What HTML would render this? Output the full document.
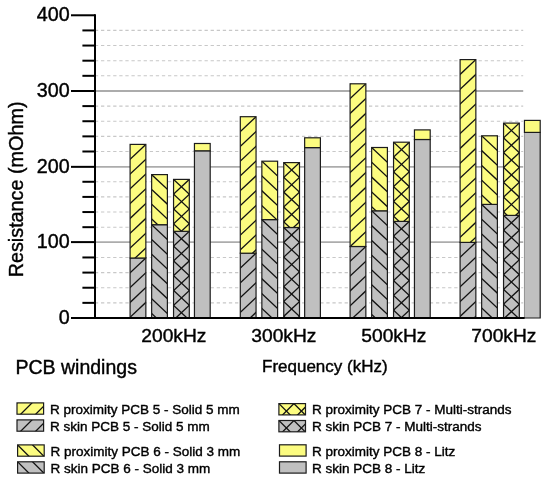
<!DOCTYPE html><html><head><meta charset="utf-8"><title>PCB windings resistance</title><style>html,body{margin:0;padding:0;background:#fff;overflow:hidden}svg{display:block;filter:blur(0.3px)}text{font-family:"Liberation Sans",Arial,Helvetica,sans-serif;fill:#000;stroke:#000;stroke-width:0.4px}</style></head><body>
<svg width="550" height="479" viewBox="0 0 550 479">
<rect width="550" height="479" fill="#fff"/>
<line x1="96.0" y1="302.86" x2="523.2" y2="302.86" stroke="#c8c8c8" stroke-width="1.1" stroke-dasharray="3.3 2.79" stroke-dashoffset="1.09"/>
<line x1="96.0" y1="287.73" x2="523.2" y2="287.73" stroke="#c8c8c8" stroke-width="1.1" stroke-dasharray="3.3 2.79" stroke-dashoffset="1.09"/>
<line x1="96.0" y1="272.59" x2="523.2" y2="272.59" stroke="#c8c8c8" stroke-width="1.1" stroke-dasharray="3.3 2.79" stroke-dashoffset="1.09"/>
<line x1="96.0" y1="257.46" x2="523.2" y2="257.46" stroke="#c8c8c8" stroke-width="1.1" stroke-dasharray="3.3 2.79" stroke-dashoffset="1.09"/>
<line x1="95.0" y1="242.10" x2="523.2" y2="242.10" stroke="#acacac" stroke-width="1.8"/>
<line x1="96.0" y1="227.18" x2="523.2" y2="227.18" stroke="#c8c8c8" stroke-width="1.1" stroke-dasharray="3.3 2.79" stroke-dashoffset="1.09"/>
<line x1="96.0" y1="212.05" x2="523.2" y2="212.05" stroke="#c8c8c8" stroke-width="1.1" stroke-dasharray="3.3 2.79" stroke-dashoffset="1.09"/>
<line x1="96.0" y1="196.91" x2="523.2" y2="196.91" stroke="#c8c8c8" stroke-width="1.1" stroke-dasharray="3.3 2.79" stroke-dashoffset="1.09"/>
<line x1="96.0" y1="181.78" x2="523.2" y2="181.78" stroke="#c8c8c8" stroke-width="1.1" stroke-dasharray="3.3 2.79" stroke-dashoffset="1.09"/>
<line x1="95.0" y1="166.85" x2="523.2" y2="166.85" stroke="#acacac" stroke-width="1.8"/>
<line x1="96.0" y1="151.50" x2="523.2" y2="151.50" stroke="#c8c8c8" stroke-width="1.1" stroke-dasharray="3.3 2.79" stroke-dashoffset="1.09"/>
<line x1="96.0" y1="136.37" x2="523.2" y2="136.37" stroke="#c8c8c8" stroke-width="1.1" stroke-dasharray="3.3 2.79" stroke-dashoffset="1.09"/>
<line x1="96.0" y1="121.23" x2="523.2" y2="121.23" stroke="#c8c8c8" stroke-width="1.1" stroke-dasharray="3.3 2.79" stroke-dashoffset="1.09"/>
<line x1="96.0" y1="106.10" x2="523.2" y2="106.10" stroke="#c8c8c8" stroke-width="1.1" stroke-dasharray="3.3 2.79" stroke-dashoffset="1.09"/>
<line x1="95.0" y1="91.00" x2="523.2" y2="91.00" stroke="#acacac" stroke-width="1.8"/>
<line x1="96.0" y1="75.82" x2="523.2" y2="75.82" stroke="#c8c8c8" stroke-width="1.1" stroke-dasharray="3.3 2.79" stroke-dashoffset="1.09"/>
<line x1="96.0" y1="60.69" x2="523.2" y2="60.69" stroke="#c8c8c8" stroke-width="1.1" stroke-dasharray="3.3 2.79" stroke-dashoffset="1.09"/>
<line x1="96.0" y1="45.55" x2="523.2" y2="45.55" stroke="#c8c8c8" stroke-width="1.1" stroke-dasharray="3.3 2.79" stroke-dashoffset="1.09"/>
<line x1="96.0" y1="30.42" x2="523.2" y2="30.42" stroke="#c8c8c8" stroke-width="1.1" stroke-dasharray="3.3 2.79" stroke-dashoffset="1.09"/>
<clipPath id="c1"><rect x="130.10" y="258.00" width="15.75" height="60.00"/></clipPath>
<rect x="130.10" y="258.00" width="15.75" height="60.00" fill="#c0c0c0"/>
<g clip-path="url(#c1)" stroke="#111" stroke-width="1.3">
<line x1="128.10" y1="215.48" x2="147.85" y2="196.92"/>
<line x1="128.10" y1="230.28" x2="147.85" y2="211.72"/>
<line x1="128.10" y1="245.08" x2="147.85" y2="226.52"/>
<line x1="128.10" y1="259.88" x2="147.85" y2="241.32"/>
<line x1="128.10" y1="274.68" x2="147.85" y2="256.12"/>
<line x1="128.10" y1="289.48" x2="147.85" y2="270.92"/>
<line x1="128.10" y1="304.28" x2="147.85" y2="285.72"/>
<line x1="128.10" y1="319.08" x2="147.85" y2="300.52"/>
<line x1="128.10" y1="333.88" x2="147.85" y2="315.32"/>
<line x1="128.10" y1="348.68" x2="147.85" y2="330.12"/>
<line x1="128.10" y1="363.48" x2="147.85" y2="344.92"/>
<line x1="128.10" y1="378.28" x2="147.85" y2="359.72"/>
<line x1="128.10" y1="393.08" x2="147.85" y2="374.52"/>
</g>
<rect x="130.10" y="258.00" width="15.75" height="60.00" fill="none" stroke="#1c1c1c" stroke-width="1.2"/>
<clipPath id="c2"><rect x="130.10" y="144.40" width="15.75" height="113.60"/></clipPath>
<rect x="130.10" y="144.40" width="15.75" height="113.60" fill="#fcfc80"/>
<g clip-path="url(#c2)" stroke="#111" stroke-width="1.3">
<line x1="128.10" y1="101.88" x2="147.85" y2="83.32"/>
<line x1="128.10" y1="116.68" x2="147.85" y2="98.12"/>
<line x1="128.10" y1="131.48" x2="147.85" y2="112.92"/>
<line x1="128.10" y1="146.28" x2="147.85" y2="127.72"/>
<line x1="128.10" y1="161.08" x2="147.85" y2="142.52"/>
<line x1="128.10" y1="175.88" x2="147.85" y2="157.32"/>
<line x1="128.10" y1="190.68" x2="147.85" y2="172.12"/>
<line x1="128.10" y1="205.48" x2="147.85" y2="186.92"/>
<line x1="128.10" y1="220.28" x2="147.85" y2="201.72"/>
<line x1="128.10" y1="235.08" x2="147.85" y2="216.52"/>
<line x1="128.10" y1="249.88" x2="147.85" y2="231.32"/>
<line x1="128.10" y1="264.68" x2="147.85" y2="246.12"/>
<line x1="128.10" y1="279.48" x2="147.85" y2="260.92"/>
<line x1="128.10" y1="294.28" x2="147.85" y2="275.72"/>
<line x1="128.10" y1="309.08" x2="147.85" y2="290.52"/>
<line x1="128.10" y1="323.88" x2="147.85" y2="305.32"/>
</g>
<rect x="130.10" y="144.40" width="15.75" height="113.60" fill="none" stroke="#1c1c1c" stroke-width="1.2"/>
<clipPath id="c3"><rect x="151.65" y="224.70" width="15.75" height="93.30"/></clipPath>
<rect x="151.65" y="224.70" width="15.75" height="93.30" fill="#c0c0c0"/>
<g clip-path="url(#c3)" stroke="#111" stroke-width="1.3">
<line x1="149.65" y1="178.42" x2="169.40" y2="196.98"/>
<line x1="149.65" y1="193.22" x2="169.40" y2="211.78"/>
<line x1="149.65" y1="208.02" x2="169.40" y2="226.58"/>
<line x1="149.65" y1="222.82" x2="169.40" y2="241.38"/>
<line x1="149.65" y1="237.62" x2="169.40" y2="256.18"/>
<line x1="149.65" y1="252.42" x2="169.40" y2="270.98"/>
<line x1="149.65" y1="267.22" x2="169.40" y2="285.78"/>
<line x1="149.65" y1="282.02" x2="169.40" y2="300.58"/>
<line x1="149.65" y1="296.82" x2="169.40" y2="315.38"/>
<line x1="149.65" y1="311.62" x2="169.40" y2="330.18"/>
<line x1="149.65" y1="326.42" x2="169.40" y2="344.98"/>
<line x1="149.65" y1="341.22" x2="169.40" y2="359.78"/>
</g>
<rect x="151.65" y="224.70" width="15.75" height="93.30" fill="none" stroke="#1c1c1c" stroke-width="1.2"/>
<clipPath id="c4"><rect x="151.65" y="174.60" width="15.75" height="50.10"/></clipPath>
<rect x="151.65" y="174.60" width="15.75" height="50.10" fill="#fcfc80"/>
<g clip-path="url(#c4)" stroke="#111" stroke-width="1.3">
<line x1="149.65" y1="128.32" x2="169.40" y2="146.88"/>
<line x1="149.65" y1="143.12" x2="169.40" y2="161.68"/>
<line x1="149.65" y1="157.92" x2="169.40" y2="176.48"/>
<line x1="149.65" y1="172.72" x2="169.40" y2="191.28"/>
<line x1="149.65" y1="187.52" x2="169.40" y2="206.08"/>
<line x1="149.65" y1="202.32" x2="169.40" y2="220.88"/>
<line x1="149.65" y1="217.12" x2="169.40" y2="235.68"/>
<line x1="149.65" y1="231.92" x2="169.40" y2="250.48"/>
<line x1="149.65" y1="246.72" x2="169.40" y2="265.28"/>
</g>
<rect x="151.65" y="174.60" width="15.75" height="50.10" fill="none" stroke="#1c1c1c" stroke-width="1.2"/>
<clipPath id="c5"><rect x="173.55" y="231.30" width="15.75" height="86.70"/></clipPath>
<rect x="173.55" y="231.30" width="15.75" height="86.70" fill="#c0c0c0"/>
<g clip-path="url(#c5)" stroke="#111" stroke-width="1.3">
<line x1="171.55" y1="185.02" x2="191.30" y2="203.58"/>
<line x1="171.55" y1="199.82" x2="191.30" y2="218.38"/>
<line x1="171.55" y1="214.62" x2="191.30" y2="233.18"/>
<line x1="171.55" y1="229.42" x2="191.30" y2="247.98"/>
<line x1="171.55" y1="244.22" x2="191.30" y2="262.78"/>
<line x1="171.55" y1="259.02" x2="191.30" y2="277.58"/>
<line x1="171.55" y1="273.82" x2="191.30" y2="292.38"/>
<line x1="171.55" y1="288.62" x2="191.30" y2="307.18"/>
<line x1="171.55" y1="303.42" x2="191.30" y2="321.98"/>
<line x1="171.55" y1="318.22" x2="191.30" y2="336.78"/>
<line x1="171.55" y1="333.02" x2="191.30" y2="351.58"/>
<line x1="171.55" y1="188.78" x2="191.30" y2="170.22"/>
<line x1="171.55" y1="203.58" x2="191.30" y2="185.02"/>
<line x1="171.55" y1="218.38" x2="191.30" y2="199.82"/>
<line x1="171.55" y1="233.18" x2="191.30" y2="214.62"/>
<line x1="171.55" y1="247.98" x2="191.30" y2="229.42"/>
<line x1="171.55" y1="262.78" x2="191.30" y2="244.22"/>
<line x1="171.55" y1="277.58" x2="191.30" y2="259.02"/>
<line x1="171.55" y1="292.38" x2="191.30" y2="273.82"/>
<line x1="171.55" y1="307.18" x2="191.30" y2="288.62"/>
<line x1="171.55" y1="321.98" x2="191.30" y2="303.42"/>
<line x1="171.55" y1="336.78" x2="191.30" y2="318.22"/>
<line x1="171.55" y1="351.58" x2="191.30" y2="333.02"/>
<line x1="171.55" y1="366.38" x2="191.30" y2="347.82"/>
<line x1="171.55" y1="381.18" x2="191.30" y2="362.62"/>
</g>
<rect x="173.55" y="231.30" width="15.75" height="86.70" fill="none" stroke="#1c1c1c" stroke-width="1.2"/>
<clipPath id="c6"><rect x="173.55" y="179.40" width="15.75" height="51.90"/></clipPath>
<rect x="173.55" y="179.40" width="15.75" height="51.90" fill="#fcfc80"/>
<g clip-path="url(#c6)" stroke="#111" stroke-width="1.3">
<line x1="171.55" y1="133.12" x2="191.30" y2="151.68"/>
<line x1="171.55" y1="147.92" x2="191.30" y2="166.48"/>
<line x1="171.55" y1="162.72" x2="191.30" y2="181.28"/>
<line x1="171.55" y1="177.52" x2="191.30" y2="196.08"/>
<line x1="171.55" y1="192.32" x2="191.30" y2="210.88"/>
<line x1="171.55" y1="207.12" x2="191.30" y2="225.68"/>
<line x1="171.55" y1="221.92" x2="191.30" y2="240.48"/>
<line x1="171.55" y1="236.72" x2="191.30" y2="255.28"/>
<line x1="171.55" y1="251.52" x2="191.30" y2="270.08"/>
<line x1="171.55" y1="136.88" x2="191.30" y2="118.32"/>
<line x1="171.55" y1="151.68" x2="191.30" y2="133.12"/>
<line x1="171.55" y1="166.48" x2="191.30" y2="147.92"/>
<line x1="171.55" y1="181.28" x2="191.30" y2="162.72"/>
<line x1="171.55" y1="196.08" x2="191.30" y2="177.52"/>
<line x1="171.55" y1="210.88" x2="191.30" y2="192.32"/>
<line x1="171.55" y1="225.68" x2="191.30" y2="207.12"/>
<line x1="171.55" y1="240.48" x2="191.30" y2="221.92"/>
<line x1="171.55" y1="255.28" x2="191.30" y2="236.72"/>
<line x1="171.55" y1="270.08" x2="191.30" y2="251.52"/>
<line x1="171.55" y1="284.88" x2="191.30" y2="266.32"/>
<line x1="171.55" y1="299.68" x2="191.30" y2="281.12"/>
</g>
<rect x="173.55" y="179.40" width="15.75" height="51.90" fill="none" stroke="#1c1c1c" stroke-width="1.2"/>
<rect x="194.45" y="150.80" width="15.75" height="167.20" fill="#c0c0c0" stroke="#1c1c1c" stroke-width="1.2"/>
<rect x="194.45" y="143.50" width="15.75" height="7.30" fill="#fcfc80" stroke="#1c1c1c" stroke-width="1.2"/>
<clipPath id="c7"><rect x="240.30" y="253.20" width="15.75" height="64.80"/></clipPath>
<rect x="240.30" y="253.20" width="15.75" height="64.80" fill="#c0c0c0"/>
<g clip-path="url(#c7)" stroke="#111" stroke-width="1.3">
<line x1="238.30" y1="210.68" x2="258.05" y2="192.12"/>
<line x1="238.30" y1="225.48" x2="258.05" y2="206.92"/>
<line x1="238.30" y1="240.28" x2="258.05" y2="221.72"/>
<line x1="238.30" y1="255.08" x2="258.05" y2="236.52"/>
<line x1="238.30" y1="269.88" x2="258.05" y2="251.32"/>
<line x1="238.30" y1="284.68" x2="258.05" y2="266.12"/>
<line x1="238.30" y1="299.48" x2="258.05" y2="280.92"/>
<line x1="238.30" y1="314.28" x2="258.05" y2="295.72"/>
<line x1="238.30" y1="329.08" x2="258.05" y2="310.52"/>
<line x1="238.30" y1="343.88" x2="258.05" y2="325.32"/>
<line x1="238.30" y1="358.68" x2="258.05" y2="340.12"/>
<line x1="238.30" y1="373.48" x2="258.05" y2="354.92"/>
<line x1="238.30" y1="388.28" x2="258.05" y2="369.72"/>
</g>
<rect x="240.30" y="253.20" width="15.75" height="64.80" fill="none" stroke="#1c1c1c" stroke-width="1.2"/>
<clipPath id="c8"><rect x="240.30" y="116.70" width="15.75" height="136.50"/></clipPath>
<rect x="240.30" y="116.70" width="15.75" height="136.50" fill="#fcfc80"/>
<g clip-path="url(#c8)" stroke="#111" stroke-width="1.3">
<line x1="238.30" y1="74.18" x2="258.05" y2="55.62"/>
<line x1="238.30" y1="88.98" x2="258.05" y2="70.42"/>
<line x1="238.30" y1="103.78" x2="258.05" y2="85.22"/>
<line x1="238.30" y1="118.58" x2="258.05" y2="100.02"/>
<line x1="238.30" y1="133.38" x2="258.05" y2="114.82"/>
<line x1="238.30" y1="148.18" x2="258.05" y2="129.62"/>
<line x1="238.30" y1="162.98" x2="258.05" y2="144.42"/>
<line x1="238.30" y1="177.78" x2="258.05" y2="159.22"/>
<line x1="238.30" y1="192.58" x2="258.05" y2="174.02"/>
<line x1="238.30" y1="207.38" x2="258.05" y2="188.82"/>
<line x1="238.30" y1="222.18" x2="258.05" y2="203.62"/>
<line x1="238.30" y1="236.98" x2="258.05" y2="218.42"/>
<line x1="238.30" y1="251.78" x2="258.05" y2="233.22"/>
<line x1="238.30" y1="266.58" x2="258.05" y2="248.02"/>
<line x1="238.30" y1="281.38" x2="258.05" y2="262.82"/>
<line x1="238.30" y1="296.18" x2="258.05" y2="277.62"/>
<line x1="238.30" y1="310.98" x2="258.05" y2="292.42"/>
<line x1="238.30" y1="325.78" x2="258.05" y2="307.22"/>
</g>
<rect x="240.30" y="116.70" width="15.75" height="136.50" fill="none" stroke="#1c1c1c" stroke-width="1.2"/>
<clipPath id="c9"><rect x="261.85" y="219.60" width="15.75" height="98.40"/></clipPath>
<rect x="261.85" y="219.60" width="15.75" height="98.40" fill="#c0c0c0"/>
<g clip-path="url(#c9)" stroke="#111" stroke-width="1.3">
<line x1="259.85" y1="173.32" x2="279.60" y2="191.88"/>
<line x1="259.85" y1="188.12" x2="279.60" y2="206.68"/>
<line x1="259.85" y1="202.92" x2="279.60" y2="221.48"/>
<line x1="259.85" y1="217.72" x2="279.60" y2="236.28"/>
<line x1="259.85" y1="232.52" x2="279.60" y2="251.08"/>
<line x1="259.85" y1="247.32" x2="279.60" y2="265.88"/>
<line x1="259.85" y1="262.12" x2="279.60" y2="280.68"/>
<line x1="259.85" y1="276.92" x2="279.60" y2="295.48"/>
<line x1="259.85" y1="291.72" x2="279.60" y2="310.28"/>
<line x1="259.85" y1="306.52" x2="279.60" y2="325.08"/>
<line x1="259.85" y1="321.32" x2="279.60" y2="339.88"/>
<line x1="259.85" y1="336.12" x2="279.60" y2="354.68"/>
</g>
<rect x="261.85" y="219.60" width="15.75" height="98.40" fill="none" stroke="#1c1c1c" stroke-width="1.2"/>
<clipPath id="c10"><rect x="261.85" y="161.20" width="15.75" height="58.40"/></clipPath>
<rect x="261.85" y="161.20" width="15.75" height="58.40" fill="#fcfc80"/>
<g clip-path="url(#c10)" stroke="#111" stroke-width="1.3">
<line x1="259.85" y1="114.92" x2="279.60" y2="133.48"/>
<line x1="259.85" y1="129.72" x2="279.60" y2="148.28"/>
<line x1="259.85" y1="144.52" x2="279.60" y2="163.08"/>
<line x1="259.85" y1="159.32" x2="279.60" y2="177.88"/>
<line x1="259.85" y1="174.12" x2="279.60" y2="192.68"/>
<line x1="259.85" y1="188.92" x2="279.60" y2="207.48"/>
<line x1="259.85" y1="203.72" x2="279.60" y2="222.28"/>
<line x1="259.85" y1="218.52" x2="279.60" y2="237.08"/>
<line x1="259.85" y1="233.32" x2="279.60" y2="251.88"/>
</g>
<rect x="261.85" y="161.20" width="15.75" height="58.40" fill="none" stroke="#1c1c1c" stroke-width="1.2"/>
<clipPath id="c11"><rect x="283.75" y="227.50" width="15.75" height="90.50"/></clipPath>
<rect x="283.75" y="227.50" width="15.75" height="90.50" fill="#c0c0c0"/>
<g clip-path="url(#c11)" stroke="#111" stroke-width="1.3">
<line x1="281.75" y1="181.22" x2="301.50" y2="199.78"/>
<line x1="281.75" y1="196.02" x2="301.50" y2="214.58"/>
<line x1="281.75" y1="210.82" x2="301.50" y2="229.38"/>
<line x1="281.75" y1="225.62" x2="301.50" y2="244.18"/>
<line x1="281.75" y1="240.42" x2="301.50" y2="258.98"/>
<line x1="281.75" y1="255.22" x2="301.50" y2="273.78"/>
<line x1="281.75" y1="270.02" x2="301.50" y2="288.58"/>
<line x1="281.75" y1="284.82" x2="301.50" y2="303.38"/>
<line x1="281.75" y1="299.62" x2="301.50" y2="318.18"/>
<line x1="281.75" y1="314.42" x2="301.50" y2="332.98"/>
<line x1="281.75" y1="329.22" x2="301.50" y2="347.78"/>
<line x1="281.75" y1="344.02" x2="301.50" y2="362.58"/>
<line x1="281.75" y1="184.98" x2="301.50" y2="166.42"/>
<line x1="281.75" y1="199.78" x2="301.50" y2="181.22"/>
<line x1="281.75" y1="214.58" x2="301.50" y2="196.02"/>
<line x1="281.75" y1="229.38" x2="301.50" y2="210.82"/>
<line x1="281.75" y1="244.18" x2="301.50" y2="225.62"/>
<line x1="281.75" y1="258.98" x2="301.50" y2="240.42"/>
<line x1="281.75" y1="273.78" x2="301.50" y2="255.22"/>
<line x1="281.75" y1="288.58" x2="301.50" y2="270.02"/>
<line x1="281.75" y1="303.38" x2="301.50" y2="284.82"/>
<line x1="281.75" y1="318.18" x2="301.50" y2="299.62"/>
<line x1="281.75" y1="332.98" x2="301.50" y2="314.42"/>
<line x1="281.75" y1="347.78" x2="301.50" y2="329.22"/>
<line x1="281.75" y1="362.58" x2="301.50" y2="344.02"/>
<line x1="281.75" y1="377.38" x2="301.50" y2="358.82"/>
<line x1="281.75" y1="392.18" x2="301.50" y2="373.62"/>
</g>
<rect x="283.75" y="227.50" width="15.75" height="90.50" fill="none" stroke="#1c1c1c" stroke-width="1.2"/>
<clipPath id="c12"><rect x="283.75" y="162.60" width="15.75" height="64.90"/></clipPath>
<rect x="283.75" y="162.60" width="15.75" height="64.90" fill="#fcfc80"/>
<g clip-path="url(#c12)" stroke="#111" stroke-width="1.3">
<line x1="281.75" y1="116.32" x2="301.50" y2="134.88"/>
<line x1="281.75" y1="131.12" x2="301.50" y2="149.68"/>
<line x1="281.75" y1="145.92" x2="301.50" y2="164.48"/>
<line x1="281.75" y1="160.72" x2="301.50" y2="179.28"/>
<line x1="281.75" y1="175.52" x2="301.50" y2="194.08"/>
<line x1="281.75" y1="190.32" x2="301.50" y2="208.88"/>
<line x1="281.75" y1="205.12" x2="301.50" y2="223.68"/>
<line x1="281.75" y1="219.92" x2="301.50" y2="238.48"/>
<line x1="281.75" y1="234.72" x2="301.50" y2="253.28"/>
<line x1="281.75" y1="249.52" x2="301.50" y2="268.08"/>
<line x1="281.75" y1="120.08" x2="301.50" y2="101.52"/>
<line x1="281.75" y1="134.88" x2="301.50" y2="116.32"/>
<line x1="281.75" y1="149.68" x2="301.50" y2="131.12"/>
<line x1="281.75" y1="164.48" x2="301.50" y2="145.92"/>
<line x1="281.75" y1="179.28" x2="301.50" y2="160.72"/>
<line x1="281.75" y1="194.08" x2="301.50" y2="175.52"/>
<line x1="281.75" y1="208.88" x2="301.50" y2="190.32"/>
<line x1="281.75" y1="223.68" x2="301.50" y2="205.12"/>
<line x1="281.75" y1="238.48" x2="301.50" y2="219.92"/>
<line x1="281.75" y1="253.28" x2="301.50" y2="234.72"/>
<line x1="281.75" y1="268.08" x2="301.50" y2="249.52"/>
<line x1="281.75" y1="282.88" x2="301.50" y2="264.32"/>
<line x1="281.75" y1="297.68" x2="301.50" y2="279.12"/>
</g>
<rect x="283.75" y="162.60" width="15.75" height="64.90" fill="none" stroke="#1c1c1c" stroke-width="1.2"/>
<rect x="304.65" y="147.60" width="15.75" height="170.40" fill="#c0c0c0" stroke="#1c1c1c" stroke-width="1.2"/>
<rect x="304.65" y="137.80" width="15.75" height="9.80" fill="#fcfc80" stroke="#1c1c1c" stroke-width="1.2"/>
<clipPath id="c13"><rect x="350.10" y="246.50" width="15.75" height="71.50"/></clipPath>
<rect x="350.10" y="246.50" width="15.75" height="71.50" fill="#c0c0c0"/>
<g clip-path="url(#c13)" stroke="#111" stroke-width="1.3">
<line x1="348.10" y1="203.98" x2="367.85" y2="185.42"/>
<line x1="348.10" y1="218.78" x2="367.85" y2="200.22"/>
<line x1="348.10" y1="233.58" x2="367.85" y2="215.02"/>
<line x1="348.10" y1="248.38" x2="367.85" y2="229.82"/>
<line x1="348.10" y1="263.18" x2="367.85" y2="244.62"/>
<line x1="348.10" y1="277.98" x2="367.85" y2="259.42"/>
<line x1="348.10" y1="292.78" x2="367.85" y2="274.22"/>
<line x1="348.10" y1="307.58" x2="367.85" y2="289.02"/>
<line x1="348.10" y1="322.38" x2="367.85" y2="303.82"/>
<line x1="348.10" y1="337.18" x2="367.85" y2="318.62"/>
<line x1="348.10" y1="351.98" x2="367.85" y2="333.42"/>
<line x1="348.10" y1="366.78" x2="367.85" y2="348.22"/>
<line x1="348.10" y1="381.58" x2="367.85" y2="363.02"/>
</g>
<rect x="350.10" y="246.50" width="15.75" height="71.50" fill="none" stroke="#1c1c1c" stroke-width="1.2"/>
<clipPath id="c14"><rect x="350.10" y="83.80" width="15.75" height="162.70"/></clipPath>
<rect x="350.10" y="83.80" width="15.75" height="162.70" fill="#fcfc80"/>
<g clip-path="url(#c14)" stroke="#111" stroke-width="1.3">
<line x1="348.10" y1="41.28" x2="367.85" y2="22.72"/>
<line x1="348.10" y1="56.08" x2="367.85" y2="37.52"/>
<line x1="348.10" y1="70.88" x2="367.85" y2="52.32"/>
<line x1="348.10" y1="85.68" x2="367.85" y2="67.12"/>
<line x1="348.10" y1="100.48" x2="367.85" y2="81.92"/>
<line x1="348.10" y1="115.28" x2="367.85" y2="96.72"/>
<line x1="348.10" y1="130.08" x2="367.85" y2="111.52"/>
<line x1="348.10" y1="144.88" x2="367.85" y2="126.32"/>
<line x1="348.10" y1="159.68" x2="367.85" y2="141.12"/>
<line x1="348.10" y1="174.48" x2="367.85" y2="155.92"/>
<line x1="348.10" y1="189.28" x2="367.85" y2="170.72"/>
<line x1="348.10" y1="204.08" x2="367.85" y2="185.52"/>
<line x1="348.10" y1="218.88" x2="367.85" y2="200.32"/>
<line x1="348.10" y1="233.68" x2="367.85" y2="215.12"/>
<line x1="348.10" y1="248.48" x2="367.85" y2="229.92"/>
<line x1="348.10" y1="263.28" x2="367.85" y2="244.72"/>
<line x1="348.10" y1="278.08" x2="367.85" y2="259.52"/>
<line x1="348.10" y1="292.88" x2="367.85" y2="274.32"/>
<line x1="348.10" y1="307.68" x2="367.85" y2="289.12"/>
</g>
<rect x="350.10" y="83.80" width="15.75" height="162.70" fill="none" stroke="#1c1c1c" stroke-width="1.2"/>
<clipPath id="c15"><rect x="371.65" y="210.80" width="15.75" height="107.20"/></clipPath>
<rect x="371.65" y="210.80" width="15.75" height="107.20" fill="#c0c0c0"/>
<g clip-path="url(#c15)" stroke="#111" stroke-width="1.3">
<line x1="369.65" y1="164.52" x2="389.40" y2="183.08"/>
<line x1="369.65" y1="179.32" x2="389.40" y2="197.88"/>
<line x1="369.65" y1="194.12" x2="389.40" y2="212.68"/>
<line x1="369.65" y1="208.92" x2="389.40" y2="227.48"/>
<line x1="369.65" y1="223.72" x2="389.40" y2="242.28"/>
<line x1="369.65" y1="238.52" x2="389.40" y2="257.08"/>
<line x1="369.65" y1="253.32" x2="389.40" y2="271.88"/>
<line x1="369.65" y1="268.12" x2="389.40" y2="286.68"/>
<line x1="369.65" y1="282.92" x2="389.40" y2="301.48"/>
<line x1="369.65" y1="297.72" x2="389.40" y2="316.28"/>
<line x1="369.65" y1="312.52" x2="389.40" y2="331.08"/>
<line x1="369.65" y1="327.32" x2="389.40" y2="345.88"/>
<line x1="369.65" y1="342.12" x2="389.40" y2="360.68"/>
</g>
<rect x="371.65" y="210.80" width="15.75" height="107.20" fill="none" stroke="#1c1c1c" stroke-width="1.2"/>
<clipPath id="c16"><rect x="371.65" y="147.50" width="15.75" height="63.30"/></clipPath>
<rect x="371.65" y="147.50" width="15.75" height="63.30" fill="#fcfc80"/>
<g clip-path="url(#c16)" stroke="#111" stroke-width="1.3">
<line x1="369.65" y1="101.22" x2="389.40" y2="119.78"/>
<line x1="369.65" y1="116.02" x2="389.40" y2="134.58"/>
<line x1="369.65" y1="130.82" x2="389.40" y2="149.38"/>
<line x1="369.65" y1="145.62" x2="389.40" y2="164.18"/>
<line x1="369.65" y1="160.42" x2="389.40" y2="178.98"/>
<line x1="369.65" y1="175.22" x2="389.40" y2="193.78"/>
<line x1="369.65" y1="190.02" x2="389.40" y2="208.58"/>
<line x1="369.65" y1="204.82" x2="389.40" y2="223.38"/>
<line x1="369.65" y1="219.62" x2="389.40" y2="238.18"/>
<line x1="369.65" y1="234.42" x2="389.40" y2="252.98"/>
</g>
<rect x="371.65" y="147.50" width="15.75" height="63.30" fill="none" stroke="#1c1c1c" stroke-width="1.2"/>
<clipPath id="c17"><rect x="393.55" y="221.40" width="15.75" height="96.60"/></clipPath>
<rect x="393.55" y="221.40" width="15.75" height="96.60" fill="#c0c0c0"/>
<g clip-path="url(#c17)" stroke="#111" stroke-width="1.3">
<line x1="391.55" y1="175.12" x2="411.30" y2="193.68"/>
<line x1="391.55" y1="189.92" x2="411.30" y2="208.48"/>
<line x1="391.55" y1="204.72" x2="411.30" y2="223.28"/>
<line x1="391.55" y1="219.52" x2="411.30" y2="238.08"/>
<line x1="391.55" y1="234.32" x2="411.30" y2="252.88"/>
<line x1="391.55" y1="249.12" x2="411.30" y2="267.68"/>
<line x1="391.55" y1="263.92" x2="411.30" y2="282.48"/>
<line x1="391.55" y1="278.72" x2="411.30" y2="297.28"/>
<line x1="391.55" y1="293.52" x2="411.30" y2="312.08"/>
<line x1="391.55" y1="308.32" x2="411.30" y2="326.88"/>
<line x1="391.55" y1="323.12" x2="411.30" y2="341.68"/>
<line x1="391.55" y1="337.92" x2="411.30" y2="356.48"/>
<line x1="391.55" y1="178.88" x2="411.30" y2="160.32"/>
<line x1="391.55" y1="193.68" x2="411.30" y2="175.12"/>
<line x1="391.55" y1="208.48" x2="411.30" y2="189.92"/>
<line x1="391.55" y1="223.28" x2="411.30" y2="204.72"/>
<line x1="391.55" y1="238.08" x2="411.30" y2="219.52"/>
<line x1="391.55" y1="252.88" x2="411.30" y2="234.32"/>
<line x1="391.55" y1="267.68" x2="411.30" y2="249.12"/>
<line x1="391.55" y1="282.48" x2="411.30" y2="263.92"/>
<line x1="391.55" y1="297.28" x2="411.30" y2="278.72"/>
<line x1="391.55" y1="312.08" x2="411.30" y2="293.52"/>
<line x1="391.55" y1="326.88" x2="411.30" y2="308.32"/>
<line x1="391.55" y1="341.68" x2="411.30" y2="323.12"/>
<line x1="391.55" y1="356.48" x2="411.30" y2="337.92"/>
<line x1="391.55" y1="371.28" x2="411.30" y2="352.72"/>
<line x1="391.55" y1="386.08" x2="411.30" y2="367.52"/>
</g>
<rect x="393.55" y="221.40" width="15.75" height="96.60" fill="none" stroke="#1c1c1c" stroke-width="1.2"/>
<clipPath id="c18"><rect x="393.55" y="142.20" width="15.75" height="79.20"/></clipPath>
<rect x="393.55" y="142.20" width="15.75" height="79.20" fill="#fcfc80"/>
<g clip-path="url(#c18)" stroke="#111" stroke-width="1.3">
<line x1="391.55" y1="95.92" x2="411.30" y2="114.48"/>
<line x1="391.55" y1="110.72" x2="411.30" y2="129.28"/>
<line x1="391.55" y1="125.52" x2="411.30" y2="144.08"/>
<line x1="391.55" y1="140.32" x2="411.30" y2="158.88"/>
<line x1="391.55" y1="155.12" x2="411.30" y2="173.68"/>
<line x1="391.55" y1="169.92" x2="411.30" y2="188.48"/>
<line x1="391.55" y1="184.72" x2="411.30" y2="203.28"/>
<line x1="391.55" y1="199.52" x2="411.30" y2="218.08"/>
<line x1="391.55" y1="214.32" x2="411.30" y2="232.88"/>
<line x1="391.55" y1="229.12" x2="411.30" y2="247.68"/>
<line x1="391.55" y1="243.92" x2="411.30" y2="262.48"/>
<line x1="391.55" y1="99.68" x2="411.30" y2="81.12"/>
<line x1="391.55" y1="114.48" x2="411.30" y2="95.92"/>
<line x1="391.55" y1="129.28" x2="411.30" y2="110.72"/>
<line x1="391.55" y1="144.08" x2="411.30" y2="125.52"/>
<line x1="391.55" y1="158.88" x2="411.30" y2="140.32"/>
<line x1="391.55" y1="173.68" x2="411.30" y2="155.12"/>
<line x1="391.55" y1="188.48" x2="411.30" y2="169.92"/>
<line x1="391.55" y1="203.28" x2="411.30" y2="184.72"/>
<line x1="391.55" y1="218.08" x2="411.30" y2="199.52"/>
<line x1="391.55" y1="232.88" x2="411.30" y2="214.32"/>
<line x1="391.55" y1="247.68" x2="411.30" y2="229.12"/>
<line x1="391.55" y1="262.48" x2="411.30" y2="243.92"/>
<line x1="391.55" y1="277.28" x2="411.30" y2="258.72"/>
<line x1="391.55" y1="292.08" x2="411.30" y2="273.52"/>
</g>
<rect x="393.55" y="142.20" width="15.75" height="79.20" fill="none" stroke="#1c1c1c" stroke-width="1.2"/>
<rect x="414.45" y="139.50" width="15.75" height="178.50" fill="#c0c0c0" stroke="#1c1c1c" stroke-width="1.2"/>
<rect x="414.45" y="129.90" width="15.75" height="9.60" fill="#fcfc80" stroke="#1c1c1c" stroke-width="1.2"/>
<clipPath id="c19"><rect x="460.10" y="242.40" width="15.75" height="75.60"/></clipPath>
<rect x="460.10" y="242.40" width="15.75" height="75.60" fill="#c0c0c0"/>
<g clip-path="url(#c19)" stroke="#111" stroke-width="1.3">
<line x1="458.10" y1="199.88" x2="477.85" y2="181.32"/>
<line x1="458.10" y1="214.68" x2="477.85" y2="196.12"/>
<line x1="458.10" y1="229.48" x2="477.85" y2="210.92"/>
<line x1="458.10" y1="244.28" x2="477.85" y2="225.72"/>
<line x1="458.10" y1="259.08" x2="477.85" y2="240.52"/>
<line x1="458.10" y1="273.88" x2="477.85" y2="255.32"/>
<line x1="458.10" y1="288.68" x2="477.85" y2="270.12"/>
<line x1="458.10" y1="303.48" x2="477.85" y2="284.92"/>
<line x1="458.10" y1="318.28" x2="477.85" y2="299.72"/>
<line x1="458.10" y1="333.08" x2="477.85" y2="314.52"/>
<line x1="458.10" y1="347.88" x2="477.85" y2="329.32"/>
<line x1="458.10" y1="362.68" x2="477.85" y2="344.12"/>
<line x1="458.10" y1="377.48" x2="477.85" y2="358.92"/>
<line x1="458.10" y1="392.28" x2="477.85" y2="373.72"/>
</g>
<rect x="460.10" y="242.40" width="15.75" height="75.60" fill="none" stroke="#1c1c1c" stroke-width="1.2"/>
<clipPath id="c20"><rect x="460.10" y="59.60" width="15.75" height="182.80"/></clipPath>
<rect x="460.10" y="59.60" width="15.75" height="182.80" fill="#fcfc80"/>
<g clip-path="url(#c20)" stroke="#111" stroke-width="1.3">
<line x1="458.10" y1="17.08" x2="477.85" y2="-1.48"/>
<line x1="458.10" y1="31.88" x2="477.85" y2="13.32"/>
<line x1="458.10" y1="46.68" x2="477.85" y2="28.12"/>
<line x1="458.10" y1="61.48" x2="477.85" y2="42.92"/>
<line x1="458.10" y1="76.28" x2="477.85" y2="57.72"/>
<line x1="458.10" y1="91.08" x2="477.85" y2="72.52"/>
<line x1="458.10" y1="105.88" x2="477.85" y2="87.32"/>
<line x1="458.10" y1="120.68" x2="477.85" y2="102.12"/>
<line x1="458.10" y1="135.48" x2="477.85" y2="116.92"/>
<line x1="458.10" y1="150.28" x2="477.85" y2="131.72"/>
<line x1="458.10" y1="165.08" x2="477.85" y2="146.52"/>
<line x1="458.10" y1="179.88" x2="477.85" y2="161.32"/>
<line x1="458.10" y1="194.68" x2="477.85" y2="176.12"/>
<line x1="458.10" y1="209.48" x2="477.85" y2="190.92"/>
<line x1="458.10" y1="224.28" x2="477.85" y2="205.72"/>
<line x1="458.10" y1="239.08" x2="477.85" y2="220.52"/>
<line x1="458.10" y1="253.88" x2="477.85" y2="235.32"/>
<line x1="458.10" y1="268.68" x2="477.85" y2="250.12"/>
<line x1="458.10" y1="283.48" x2="477.85" y2="264.92"/>
<line x1="458.10" y1="298.28" x2="477.85" y2="279.72"/>
<line x1="458.10" y1="313.08" x2="477.85" y2="294.52"/>
</g>
<rect x="460.10" y="59.60" width="15.75" height="182.80" fill="none" stroke="#1c1c1c" stroke-width="1.2"/>
<clipPath id="c21"><rect x="481.65" y="204.40" width="15.75" height="113.60"/></clipPath>
<rect x="481.65" y="204.40" width="15.75" height="113.60" fill="#c0c0c0"/>
<g clip-path="url(#c21)" stroke="#111" stroke-width="1.3">
<line x1="479.65" y1="158.12" x2="499.40" y2="176.68"/>
<line x1="479.65" y1="172.92" x2="499.40" y2="191.48"/>
<line x1="479.65" y1="187.72" x2="499.40" y2="206.28"/>
<line x1="479.65" y1="202.52" x2="499.40" y2="221.08"/>
<line x1="479.65" y1="217.32" x2="499.40" y2="235.88"/>
<line x1="479.65" y1="232.12" x2="499.40" y2="250.68"/>
<line x1="479.65" y1="246.92" x2="499.40" y2="265.48"/>
<line x1="479.65" y1="261.72" x2="499.40" y2="280.28"/>
<line x1="479.65" y1="276.52" x2="499.40" y2="295.08"/>
<line x1="479.65" y1="291.32" x2="499.40" y2="309.88"/>
<line x1="479.65" y1="306.12" x2="499.40" y2="324.68"/>
<line x1="479.65" y1="320.92" x2="499.40" y2="339.48"/>
<line x1="479.65" y1="335.72" x2="499.40" y2="354.28"/>
</g>
<rect x="481.65" y="204.40" width="15.75" height="113.60" fill="none" stroke="#1c1c1c" stroke-width="1.2"/>
<clipPath id="c22"><rect x="481.65" y="135.80" width="15.75" height="68.60"/></clipPath>
<rect x="481.65" y="135.80" width="15.75" height="68.60" fill="#fcfc80"/>
<g clip-path="url(#c22)" stroke="#111" stroke-width="1.3">
<line x1="479.65" y1="89.52" x2="499.40" y2="108.08"/>
<line x1="479.65" y1="104.32" x2="499.40" y2="122.88"/>
<line x1="479.65" y1="119.12" x2="499.40" y2="137.68"/>
<line x1="479.65" y1="133.92" x2="499.40" y2="152.48"/>
<line x1="479.65" y1="148.72" x2="499.40" y2="167.28"/>
<line x1="479.65" y1="163.52" x2="499.40" y2="182.08"/>
<line x1="479.65" y1="178.32" x2="499.40" y2="196.88"/>
<line x1="479.65" y1="193.12" x2="499.40" y2="211.68"/>
<line x1="479.65" y1="207.92" x2="499.40" y2="226.48"/>
<line x1="479.65" y1="222.72" x2="499.40" y2="241.28"/>
</g>
<rect x="481.65" y="135.80" width="15.75" height="68.60" fill="none" stroke="#1c1c1c" stroke-width="1.2"/>
<clipPath id="c23"><rect x="503.55" y="215.40" width="15.75" height="102.60"/></clipPath>
<rect x="503.55" y="215.40" width="15.75" height="102.60" fill="#c0c0c0"/>
<g clip-path="url(#c23)" stroke="#111" stroke-width="1.3">
<line x1="501.55" y1="169.12" x2="521.30" y2="187.68"/>
<line x1="501.55" y1="183.92" x2="521.30" y2="202.48"/>
<line x1="501.55" y1="198.72" x2="521.30" y2="217.28"/>
<line x1="501.55" y1="213.52" x2="521.30" y2="232.08"/>
<line x1="501.55" y1="228.32" x2="521.30" y2="246.88"/>
<line x1="501.55" y1="243.12" x2="521.30" y2="261.68"/>
<line x1="501.55" y1="257.92" x2="521.30" y2="276.48"/>
<line x1="501.55" y1="272.72" x2="521.30" y2="291.28"/>
<line x1="501.55" y1="287.52" x2="521.30" y2="306.08"/>
<line x1="501.55" y1="302.32" x2="521.30" y2="320.88"/>
<line x1="501.55" y1="317.12" x2="521.30" y2="335.68"/>
<line x1="501.55" y1="331.92" x2="521.30" y2="350.48"/>
<line x1="501.55" y1="172.88" x2="521.30" y2="154.32"/>
<line x1="501.55" y1="187.68" x2="521.30" y2="169.12"/>
<line x1="501.55" y1="202.48" x2="521.30" y2="183.92"/>
<line x1="501.55" y1="217.28" x2="521.30" y2="198.72"/>
<line x1="501.55" y1="232.08" x2="521.30" y2="213.52"/>
<line x1="501.55" y1="246.88" x2="521.30" y2="228.32"/>
<line x1="501.55" y1="261.68" x2="521.30" y2="243.12"/>
<line x1="501.55" y1="276.48" x2="521.30" y2="257.92"/>
<line x1="501.55" y1="291.28" x2="521.30" y2="272.72"/>
<line x1="501.55" y1="306.08" x2="521.30" y2="287.52"/>
<line x1="501.55" y1="320.88" x2="521.30" y2="302.32"/>
<line x1="501.55" y1="335.68" x2="521.30" y2="317.12"/>
<line x1="501.55" y1="350.48" x2="521.30" y2="331.92"/>
<line x1="501.55" y1="365.28" x2="521.30" y2="346.72"/>
<line x1="501.55" y1="380.08" x2="521.30" y2="361.52"/>
</g>
<rect x="503.55" y="215.40" width="15.75" height="102.60" fill="none" stroke="#1c1c1c" stroke-width="1.2"/>
<clipPath id="c24"><rect x="503.55" y="123.10" width="15.75" height="92.30"/></clipPath>
<rect x="503.55" y="123.10" width="15.75" height="92.30" fill="#fcfc80"/>
<g clip-path="url(#c24)" stroke="#111" stroke-width="1.3">
<line x1="501.55" y1="76.82" x2="521.30" y2="95.38"/>
<line x1="501.55" y1="91.62" x2="521.30" y2="110.18"/>
<line x1="501.55" y1="106.42" x2="521.30" y2="124.98"/>
<line x1="501.55" y1="121.22" x2="521.30" y2="139.78"/>
<line x1="501.55" y1="136.02" x2="521.30" y2="154.58"/>
<line x1="501.55" y1="150.82" x2="521.30" y2="169.38"/>
<line x1="501.55" y1="165.62" x2="521.30" y2="184.18"/>
<line x1="501.55" y1="180.42" x2="521.30" y2="198.98"/>
<line x1="501.55" y1="195.22" x2="521.30" y2="213.78"/>
<line x1="501.55" y1="210.02" x2="521.30" y2="228.58"/>
<line x1="501.55" y1="224.82" x2="521.30" y2="243.38"/>
<line x1="501.55" y1="239.62" x2="521.30" y2="258.18"/>
<line x1="501.55" y1="80.58" x2="521.30" y2="62.02"/>
<line x1="501.55" y1="95.38" x2="521.30" y2="76.82"/>
<line x1="501.55" y1="110.18" x2="521.30" y2="91.62"/>
<line x1="501.55" y1="124.98" x2="521.30" y2="106.42"/>
<line x1="501.55" y1="139.78" x2="521.30" y2="121.22"/>
<line x1="501.55" y1="154.58" x2="521.30" y2="136.02"/>
<line x1="501.55" y1="169.38" x2="521.30" y2="150.82"/>
<line x1="501.55" y1="184.18" x2="521.30" y2="165.62"/>
<line x1="501.55" y1="198.98" x2="521.30" y2="180.42"/>
<line x1="501.55" y1="213.78" x2="521.30" y2="195.22"/>
<line x1="501.55" y1="228.58" x2="521.30" y2="210.02"/>
<line x1="501.55" y1="243.38" x2="521.30" y2="224.82"/>
<line x1="501.55" y1="258.18" x2="521.30" y2="239.62"/>
<line x1="501.55" y1="272.98" x2="521.30" y2="254.42"/>
<line x1="501.55" y1="287.78" x2="521.30" y2="269.22"/>
</g>
<rect x="503.55" y="123.10" width="15.75" height="92.30" fill="none" stroke="#1c1c1c" stroke-width="1.2"/>
<rect x="524.45" y="132.40" width="15.75" height="185.60" fill="#c0c0c0"/>
<path d="M524.45,318.00V132.40" stroke="#8a8a8a" stroke-width="0.9" fill="none"/>
<path d="M524.45,132.40H540.20V318.00H524.45" stroke="#1c1c1c" stroke-width="1.2" fill="none"/>
<rect x="524.45" y="120.40" width="15.75" height="12.00" fill="#fcfc80" stroke="#1c1c1c" stroke-width="1.2"/>
<line x1="95.0" y1="14.28" x2="95.0" y2="319.00" stroke="#000" stroke-width="2.0"/>
<line x1="71" y1="318.00" x2="524.7" y2="318.00" stroke="#000" stroke-width="2"/>
<line x1="71" y1="318.00" x2="95.0" y2="318.00" stroke="#000" stroke-width="2"/>
<line x1="82.4" y1="302.86" x2="95.0" y2="302.86" stroke="#000" stroke-width="2"/>
<line x1="82.4" y1="287.73" x2="95.0" y2="287.73" stroke="#000" stroke-width="2"/>
<line x1="82.4" y1="272.59" x2="95.0" y2="272.59" stroke="#000" stroke-width="2"/>
<line x1="82.4" y1="257.46" x2="95.0" y2="257.46" stroke="#000" stroke-width="2"/>
<line x1="71" y1="242.10" x2="95.0" y2="242.10" stroke="#000" stroke-width="2"/>
<line x1="82.4" y1="227.18" x2="95.0" y2="227.18" stroke="#000" stroke-width="2"/>
<line x1="82.4" y1="212.05" x2="95.0" y2="212.05" stroke="#000" stroke-width="2"/>
<line x1="82.4" y1="196.91" x2="95.0" y2="196.91" stroke="#000" stroke-width="2"/>
<line x1="82.4" y1="181.78" x2="95.0" y2="181.78" stroke="#000" stroke-width="2"/>
<line x1="71" y1="166.85" x2="95.0" y2="166.85" stroke="#000" stroke-width="2"/>
<line x1="82.4" y1="151.50" x2="95.0" y2="151.50" stroke="#000" stroke-width="2"/>
<line x1="82.4" y1="136.37" x2="95.0" y2="136.37" stroke="#000" stroke-width="2"/>
<line x1="82.4" y1="121.23" x2="95.0" y2="121.23" stroke="#000" stroke-width="2"/>
<line x1="82.4" y1="106.10" x2="95.0" y2="106.10" stroke="#000" stroke-width="2"/>
<line x1="71" y1="91.00" x2="95.0" y2="91.00" stroke="#000" stroke-width="2"/>
<line x1="82.4" y1="75.82" x2="95.0" y2="75.82" stroke="#000" stroke-width="2"/>
<line x1="82.4" y1="60.69" x2="95.0" y2="60.69" stroke="#000" stroke-width="2"/>
<line x1="82.4" y1="45.55" x2="95.0" y2="45.55" stroke="#000" stroke-width="2"/>
<line x1="82.4" y1="30.42" x2="95.0" y2="30.42" stroke="#000" stroke-width="2"/>
<line x1="71" y1="15.28" x2="95.0" y2="15.28" stroke="#000" stroke-width="2"/>
<text x="69.6" y="323.85" font-size="19.7" text-anchor="end">0</text>
<text x="69.6" y="247.95" font-size="19.7" text-anchor="end">100</text>
<text x="69.6" y="172.70" font-size="19.7" text-anchor="end">200</text>
<text x="69.6" y="96.85" font-size="19.7" text-anchor="end">300</text>
<text x="69.6" y="21.13" font-size="19.7" text-anchor="end">400</text>
<text transform="translate(22.8,189.4) rotate(-90)" font-size="19.8" text-anchor="middle">Resistance (mOhm)</text>
<text x="173.85" y="342.45" font-size="19.2" text-anchor="middle">200kHz</text>
<text x="283.85" y="342.45" font-size="19.2" text-anchor="middle">300kHz</text>
<text x="393.85" y="342.45" font-size="19.2" text-anchor="middle">500kHz</text>
<text x="503.85" y="342.45" font-size="19.2" text-anchor="middle">700kHz</text>
<text x="15.5" y="374.3" font-size="19.5">PCB windings</text>
<text x="262.0" y="372.4" font-size="17">Frequency (kHz)</text>
<clipPath id="c25"><rect x="17.00" y="402.90" width="26.60" height="11.30"/></clipPath>
<rect x="17.00" y="402.90" width="26.60" height="11.30" fill="#fcfc80"/>
<g clip-path="url(#c25)" stroke="#111" stroke-width="1.3">
<line x1="15.00" y1="359.90" x2="45.60" y2="329.30"/>
<line x1="15.00" y1="374.90" x2="45.60" y2="344.30"/>
<line x1="15.00" y1="389.90" x2="45.60" y2="359.30"/>
<line x1="15.00" y1="404.90" x2="45.60" y2="374.30"/>
<line x1="15.00" y1="419.90" x2="45.60" y2="389.30"/>
<line x1="15.00" y1="434.90" x2="45.60" y2="404.30"/>
<line x1="15.00" y1="449.90" x2="45.60" y2="419.30"/>
<line x1="15.00" y1="464.90" x2="45.60" y2="434.30"/>
<line x1="15.00" y1="479.90" x2="45.60" y2="449.30"/>
</g>
<rect x="17.00" y="402.90" width="26.60" height="11.30" fill="none" stroke="#1c1c1c" stroke-width="1.2"/>
<text x="49.9" y="414.0" font-size="13.5">R proximity PCB 5 - Solid 5 mm</text>
<clipPath id="c26"><rect x="17.00" y="419.90" width="26.60" height="11.30"/></clipPath>
<rect x="17.00" y="419.90" width="26.60" height="11.30" fill="#c0c0c0"/>
<g clip-path="url(#c26)" stroke="#111" stroke-width="1.3">
<line x1="15.00" y1="376.90" x2="45.60" y2="346.30"/>
<line x1="15.00" y1="391.90" x2="45.60" y2="361.30"/>
<line x1="15.00" y1="406.90" x2="45.60" y2="376.30"/>
<line x1="15.00" y1="421.90" x2="45.60" y2="391.30"/>
<line x1="15.00" y1="436.90" x2="45.60" y2="406.30"/>
<line x1="15.00" y1="451.90" x2="45.60" y2="421.30"/>
<line x1="15.00" y1="466.90" x2="45.60" y2="436.30"/>
<line x1="15.00" y1="481.90" x2="45.60" y2="451.30"/>
<line x1="15.00" y1="496.90" x2="45.60" y2="466.30"/>
</g>
<rect x="17.00" y="419.90" width="26.60" height="11.30" fill="none" stroke="#1c1c1c" stroke-width="1.2"/>
<text x="49.9" y="430.9" font-size="13.5">R skin PCB 5 - Solid 5 mm</text>
<clipPath id="c27"><rect x="17.60" y="444.90" width="26.60" height="11.30"/></clipPath>
<rect x="17.60" y="444.90" width="26.60" height="11.30" fill="#fcfc80"/>
<g clip-path="url(#c27)" stroke="#111" stroke-width="1.3">
<line x1="15.60" y1="397.90" x2="46.20" y2="428.50"/>
<line x1="15.60" y1="412.90" x2="46.20" y2="443.50"/>
<line x1="15.60" y1="427.90" x2="46.20" y2="458.50"/>
<line x1="15.60" y1="442.90" x2="46.20" y2="473.50"/>
<line x1="15.60" y1="457.90" x2="46.20" y2="488.50"/>
<line x1="15.60" y1="472.90" x2="46.20" y2="503.50"/>
</g>
<rect x="17.60" y="444.90" width="26.60" height="11.30" fill="none" stroke="#1c1c1c" stroke-width="1.2"/>
<text x="50.5" y="455.5" font-size="13.5">R proximity PCB 6 - Solid 3 mm</text>
<clipPath id="c28"><rect x="17.60" y="461.80" width="26.60" height="11.30"/></clipPath>
<rect x="17.60" y="461.80" width="26.60" height="11.30" fill="#c0c0c0"/>
<g clip-path="url(#c28)" stroke="#111" stroke-width="1.3">
<line x1="15.60" y1="414.80" x2="46.20" y2="445.40"/>
<line x1="15.60" y1="429.80" x2="46.20" y2="460.40"/>
<line x1="15.60" y1="444.80" x2="46.20" y2="475.40"/>
<line x1="15.60" y1="459.80" x2="46.20" y2="490.40"/>
<line x1="15.60" y1="474.80" x2="46.20" y2="505.40"/>
<line x1="15.60" y1="489.80" x2="46.20" y2="520.40"/>
</g>
<rect x="17.60" y="461.80" width="26.60" height="11.30" fill="none" stroke="#1c1c1c" stroke-width="1.2"/>
<text x="50.5" y="472.5" font-size="13.5">R skin PCB 6 - Solid 3 mm</text>
<clipPath id="c29"><rect x="278.90" y="403.60" width="26.60" height="11.30"/></clipPath>
<rect x="278.90" y="403.60" width="26.60" height="11.30" fill="#fcfc80"/>
<g clip-path="url(#c29)" stroke="#111" stroke-width="1.3">
<line x1="276.90" y1="356.60" x2="307.50" y2="387.20"/>
<line x1="276.90" y1="371.60" x2="307.50" y2="402.20"/>
<line x1="276.90" y1="386.60" x2="307.50" y2="417.20"/>
<line x1="276.90" y1="401.60" x2="307.50" y2="432.20"/>
<line x1="276.90" y1="416.60" x2="307.50" y2="447.20"/>
<line x1="276.90" y1="431.60" x2="307.50" y2="462.20"/>
<line x1="276.90" y1="360.60" x2="307.50" y2="330.00"/>
<line x1="276.90" y1="375.60" x2="307.50" y2="345.00"/>
<line x1="276.90" y1="390.60" x2="307.50" y2="360.00"/>
<line x1="276.90" y1="405.60" x2="307.50" y2="375.00"/>
<line x1="276.90" y1="420.60" x2="307.50" y2="390.00"/>
<line x1="276.90" y1="435.60" x2="307.50" y2="405.00"/>
<line x1="276.90" y1="450.60" x2="307.50" y2="420.00"/>
<line x1="276.90" y1="465.60" x2="307.50" y2="435.00"/>
<line x1="276.90" y1="480.60" x2="307.50" y2="450.00"/>
</g>
<rect x="278.90" y="403.60" width="26.60" height="11.30" fill="none" stroke="#1c1c1c" stroke-width="1.2"/>
<text x="312.0" y="414.3" font-size="13.5">R proximity PCB 7 - Multi-strands</text>
<clipPath id="c30"><rect x="278.90" y="420.50" width="26.60" height="11.30"/></clipPath>
<rect x="278.90" y="420.50" width="26.60" height="11.30" fill="#c0c0c0"/>
<g clip-path="url(#c30)" stroke="#111" stroke-width="1.3">
<line x1="276.90" y1="373.50" x2="307.50" y2="404.10"/>
<line x1="276.90" y1="388.50" x2="307.50" y2="419.10"/>
<line x1="276.90" y1="403.50" x2="307.50" y2="434.10"/>
<line x1="276.90" y1="418.50" x2="307.50" y2="449.10"/>
<line x1="276.90" y1="433.50" x2="307.50" y2="464.10"/>
<line x1="276.90" y1="448.50" x2="307.50" y2="479.10"/>
<line x1="276.90" y1="377.50" x2="307.50" y2="346.90"/>
<line x1="276.90" y1="392.50" x2="307.50" y2="361.90"/>
<line x1="276.90" y1="407.50" x2="307.50" y2="376.90"/>
<line x1="276.90" y1="422.50" x2="307.50" y2="391.90"/>
<line x1="276.90" y1="437.50" x2="307.50" y2="406.90"/>
<line x1="276.90" y1="452.50" x2="307.50" y2="421.90"/>
<line x1="276.90" y1="467.50" x2="307.50" y2="436.90"/>
<line x1="276.90" y1="482.50" x2="307.50" y2="451.90"/>
<line x1="276.90" y1="497.50" x2="307.50" y2="466.90"/>
</g>
<rect x="278.90" y="420.50" width="26.60" height="11.30" fill="none" stroke="#1c1c1c" stroke-width="1.2"/>
<text x="312.0" y="431.3" font-size="13.5">R skin PCB 7 - Multi-strands</text>
<rect x="279.50" y="444.80" width="26.60" height="11.30" fill="#fcfc80" stroke="#1c1c1c" stroke-width="1.2"/>
<text x="312.0" y="455.5" font-size="13.5">R proximity PCB 8 - Litz</text>
<rect x="279.50" y="461.80" width="26.60" height="11.30" fill="#c0c0c0" stroke="#1c1c1c" stroke-width="1.2"/>
<text x="312.0" y="472.7" font-size="13.5">R skin PCB 8 - Litz</text>
</svg></body></html>
